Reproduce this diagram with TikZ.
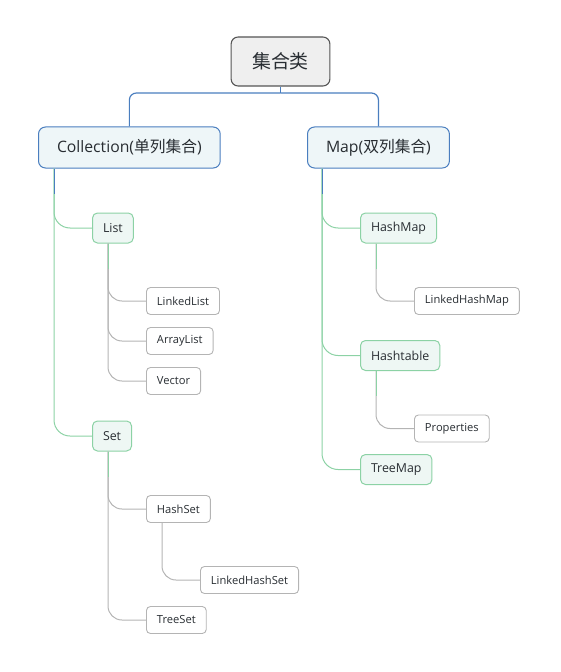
\documentclass[tikz,border=0pt]{standalone}
\usepackage{fontspec}
\setmainfont{Open Sans}
\newfontfamily\cjk{Noto Sans CJK SC}
\usetikzlibrary{positioning}
\definecolor{rootfill}{RGB}{239,239,239}
\definecolor{rootline}{RGB}{85,85,85}
\definecolor{blueline}{RGB}{74,126,191}
\definecolor{bluefill}{RGB}{238,246,248}
\definecolor{greenline}{RGB}{140,210,165}
\definecolor{greenfill}{RGB}{238,247,244}
\definecolor{grayline}{RGB}{180,180,180}
\definecolor{textdark}{RGB}{40,45,50}

\tikzset{
  rootbox/.style={draw=rootline, fill=rootfill, rounded corners=7bp, line width=1.1bp,
    minimum height=49bp, inner xsep=21bp, text=textdark, font=\fontsize{19}{22}\selectfont\cjk},
  mainbox/.style={draw=blueline, fill=bluefill, rounded corners=7bp, line width=1bp,
    minimum height=41bp, inner xsep=18.5bp, text=textdark, font=\fontsize{15.8}{18}\selectfont},
  subbox/.style={draw=greenline, fill=greenfill, rounded corners=5bp, line width=1bp,
    minimum height=30bp, inner xsep=10.5bp, text=textdark, font=\fontsize{12.4}{14}\selectfont},
  leafbox/.style={draw=grayline, fill=white, rounded corners=4bp, line width=0.9bp,
    minimum height=27bp, inner xsep=10.5bp, text=textdark, font=\fontsize{11.2}{13}\selectfont},
  bluelink/.style={draw=blueline, line width=1.2bp},
  greenlink/.style={draw=greenline, line width=1bp, rounded corners=16bp},
  graylink/.style={draw=grayline, line width=1bp, rounded corners=14bp}
}

\begin{document}
\begin{tikzpicture}[x=1bp, y=-1bp]
  \useasboundingbox (0,0) rectangle (561,672);

  \node[rootbox] (root) at (280.5,61.5) {集合类};

  \node[mainbox, anchor=west] (collection) at (38,147.5) {Collection({\cjk 单列集合})};
  \node[mainbox, anchor=west] (map) at (307,147.5) {Map({\cjk 双列集合})};

  \node[subbox, anchor=west] (list) at (92,228) {List};
  \node[subbox, anchor=west] (set) at (92,436) {Set};
  \node[leafbox, anchor=west] (linkedlist) at (146,301) {LinkedList};
  \node[leafbox, anchor=west] (arraylist) at (146,341) {ArrayList};
  \node[leafbox, anchor=west] (vector) at (146,381) {Vector};
  \node[leafbox, anchor=west] (hashset) at (146,509) {HashSet};
  \node[leafbox, anchor=west] (linkedhashset) at (200,580) {LinkedHashSet};
  \node[leafbox, anchor=west] (treeset) at (146,620) {TreeSet};

  \node[subbox, anchor=west] (hashmap) at (360,228) {HashMap};
  \node[subbox, anchor=west] (hashtable) at (360,355.5) {Hashtable};
  \node[subbox, anchor=west] (treemap) at (360,469.5) {TreeMap};
  \node[leafbox, anchor=west] (linkedhashmap) at (414,301) {LinkedHashMap};
  \node[leafbox, anchor=west] (properties) at (414,428.5) {Properties};

  % root to the two kinds
  \coordinate (fork) at (280.5,93);
  \draw[bluelink] (root.south) -- (fork);
  \draw[bluelink, rounded corners=7bp] (fork) -| (collection.north);
  \draw[bluelink, rounded corners=7bp] (fork) -| (map.north);

  % Collection side
  \draw[greenlink] ([xshift=16bp]collection.south west) |- (list.west);
  \draw[greenlink] ([xshift=16bp]collection.south west) |- (set.west);
  \draw[bluelink, line width=1bp] ([xshift=16bp]collection.south west) -- ++(0,25);

  \draw[graylink] ([xshift=16bp]list.south west) |- (linkedlist.west);
  \draw[graylink] ([xshift=16bp]list.south west) |- (arraylist.west);
  \draw[graylink] ([xshift=16bp]list.south west) |- (vector.west);
  \draw[greenlink] ([xshift=16bp]list.south west) -- ++(0,25);

  \draw[graylink] ([xshift=16bp]set.south west) |- (hashset.west);
  \draw[graylink] ([xshift=16bp]set.south west) |- (treeset.west);
  \draw[greenlink] ([xshift=16bp]set.south west) -- ++(0,25);
  \draw[graylink] ([xshift=16bp]hashset.south west) |- (linkedhashset.west);

  % Map side
  \draw[greenlink] ([xshift=15bp]map.south west) |- (hashmap.west);
  \draw[greenlink] ([xshift=15bp]map.south west) |- (hashtable.west);
  \draw[greenlink] ([xshift=15bp]map.south west) |- (treemap.west);
  \draw[bluelink, line width=1bp] ([xshift=15bp]map.south west) -- ++(0,25);

  \draw[graylink] ([xshift=16bp]hashmap.south west) |- (linkedhashmap.west);
  \draw[greenlink] ([xshift=16bp]hashmap.south west) -- ++(0,25);
  \draw[graylink] ([xshift=16bp]hashtable.south west) |- (properties.west);
  \draw[greenlink] ([xshift=16bp]hashtable.south west) -- ++(0,25);
\end{tikzpicture}
\end{document}
